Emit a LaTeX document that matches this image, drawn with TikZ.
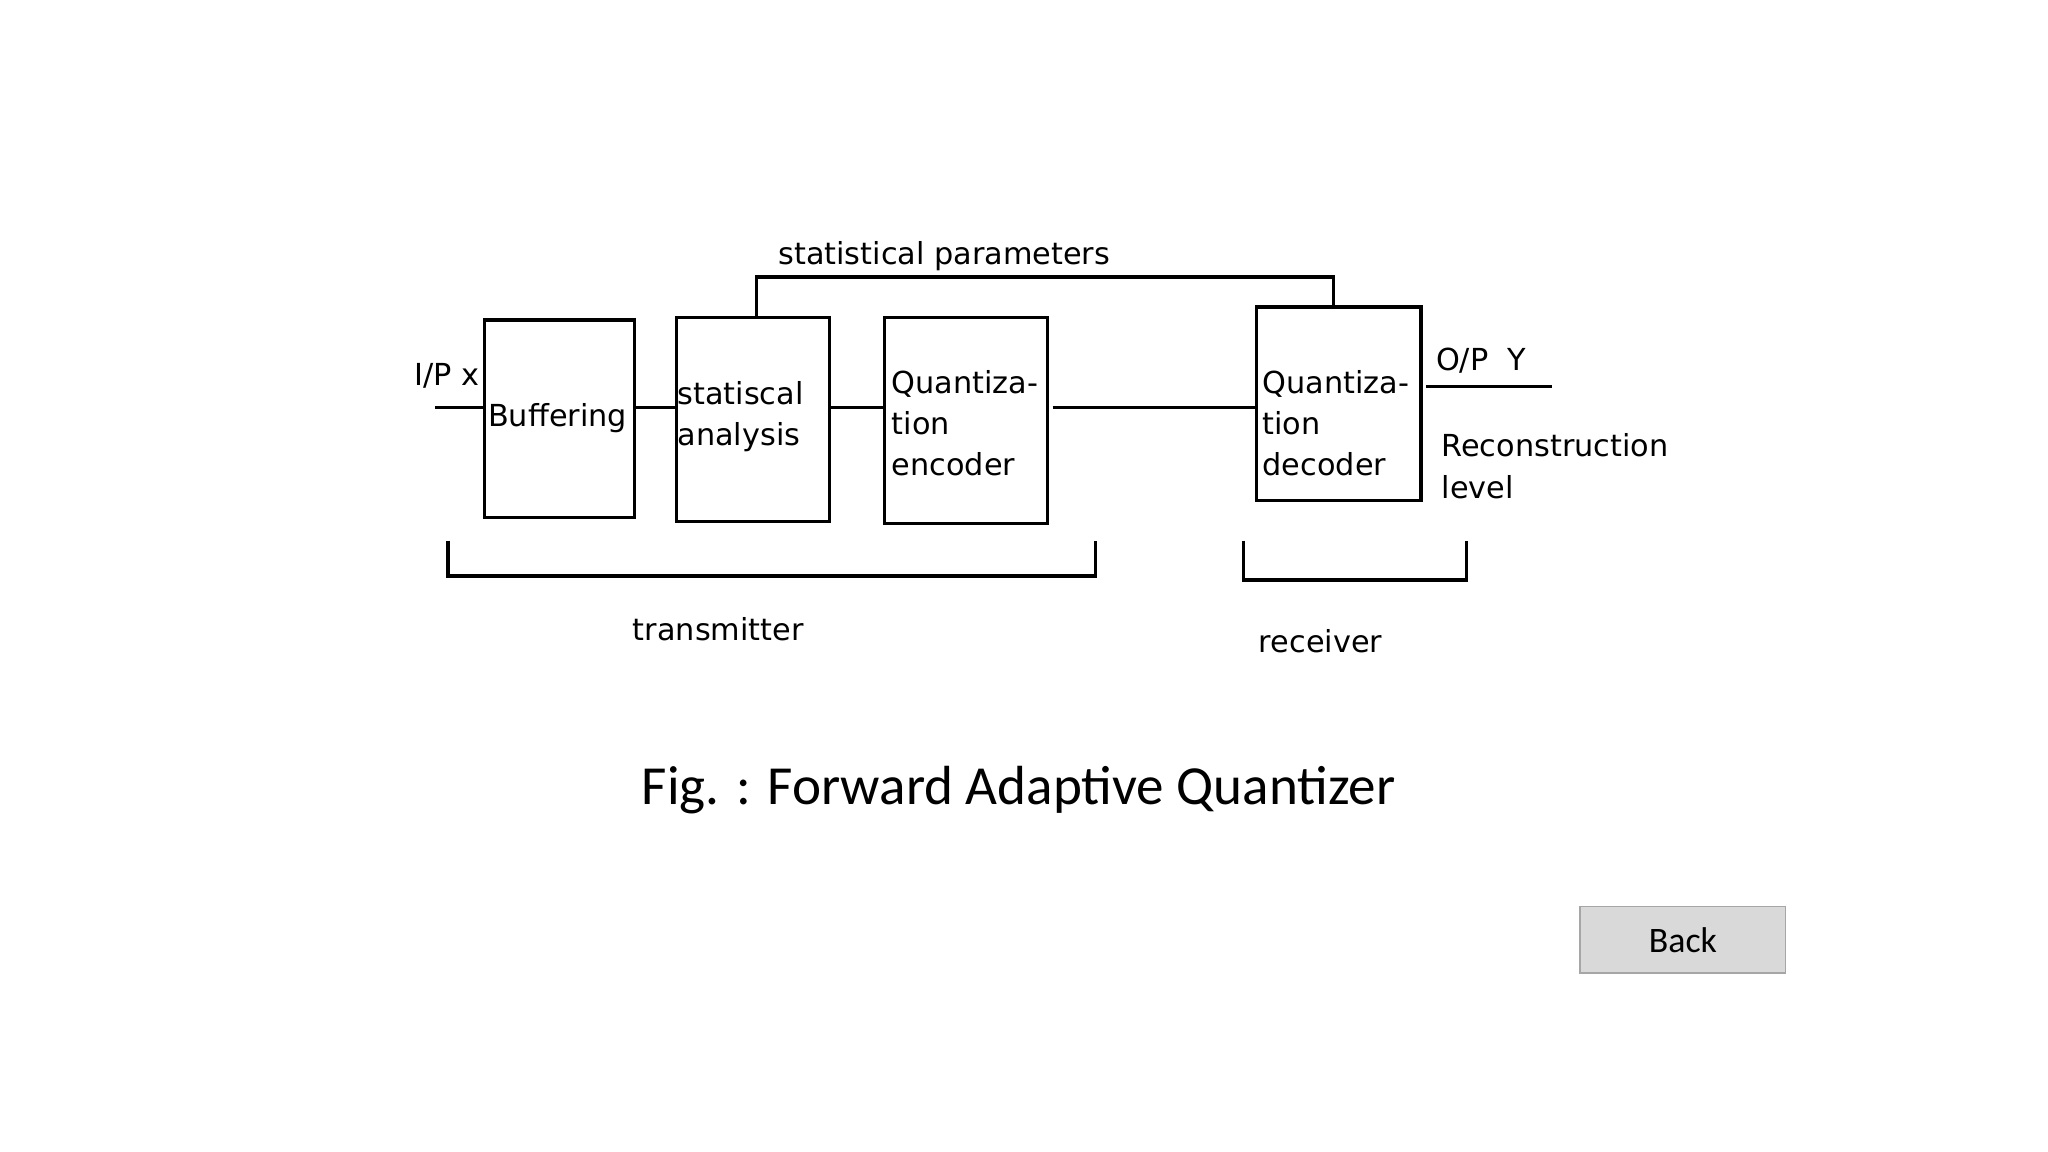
\documentclass[tikz,border=0pt]{standalone}
\usepackage{fontspec}
\setmainfont{DejaVu Sans}
\newfontfamily\capfont{Carlito}
\begin{document}
\begin{tikzpicture}[x=0.01cm,y=-0.01cm,
  blk/.style={draw,line width=0.7pt},
  ln/.style={line width=0.7pt},
  lbl/.style={font=\fontsize{6.6}{9}\selectfont,inner sep=0pt,align=left}]
\useasboundingbox (0,0) rectangle (1568,882);
\fill[white] (0,0) rectangle (1568,882);
\draw[blk] (371,245) rectangle (486,396);
\node[lbl,anchor=west] (buf) at (373,320) {Buffering};
\draw[blk] (518,243) rectangle (635,399);
\node[lbl,anchor=west] (sa) at (518,319) {statiscal\\analysis};
\draw[blk] (677,243) rectangle (802,401);
\node[lbl,anchor=west] (qe) at (682,324) {Quantiza-\\tion\\encoder};
\draw[blk] (962,235) rectangle (1088,383);
\node[lbl,anchor=west] (qd) at (966,324) {Quantiza-\\tion\\decoder};
\coordinate (in) at (333,312);
\draw[ln] (in) -- (371,312);
\draw[ln] (486,312) -- (518,312);
\draw[ln] (635,312) -- (677,312);
\draw[ln] (806,312) -- (962,312);
\draw[ln] (1092,296) -- (1188,296);
\draw[ln] (579,243) -- (579,212) -- (1021,212) -- (1021,235);
\node[lbl] (ip) at (342,288) {I/P x};
\node[lbl] (op) at (1134,276) {O/P\ \ Y};
\node[lbl,anchor=west] (rl) at (1103,357) {Reconstruction\\level};
\node[lbl] (sp) at (723,196) {statistical parameters};
\draw[ln] (343,414) -- (343,441) -- (839,441) -- (839,414);
\draw[ln] (952,414) -- (952,444) -- (1123,444) -- (1123,414);
\node[lbl] (tx) at (550,482) {transmitter};
\node[lbl] (rx) at (1011,491) {receiver};
\node[font=\capfont\fontsize{12}{14}\selectfont,inner sep=0pt] (cap) at (780,605) {Fig. : Forward Adaptive Quantizer};
\node[draw=gray!70,fill=gray!30,minimum width=1.57cm,minimum height=0.51cm,inner sep=0pt,font=\capfont\fontsize{7.8}{9}\selectfont] (back) at (1288.5,719.5) {Back};
\end{tikzpicture}
\end{document}
